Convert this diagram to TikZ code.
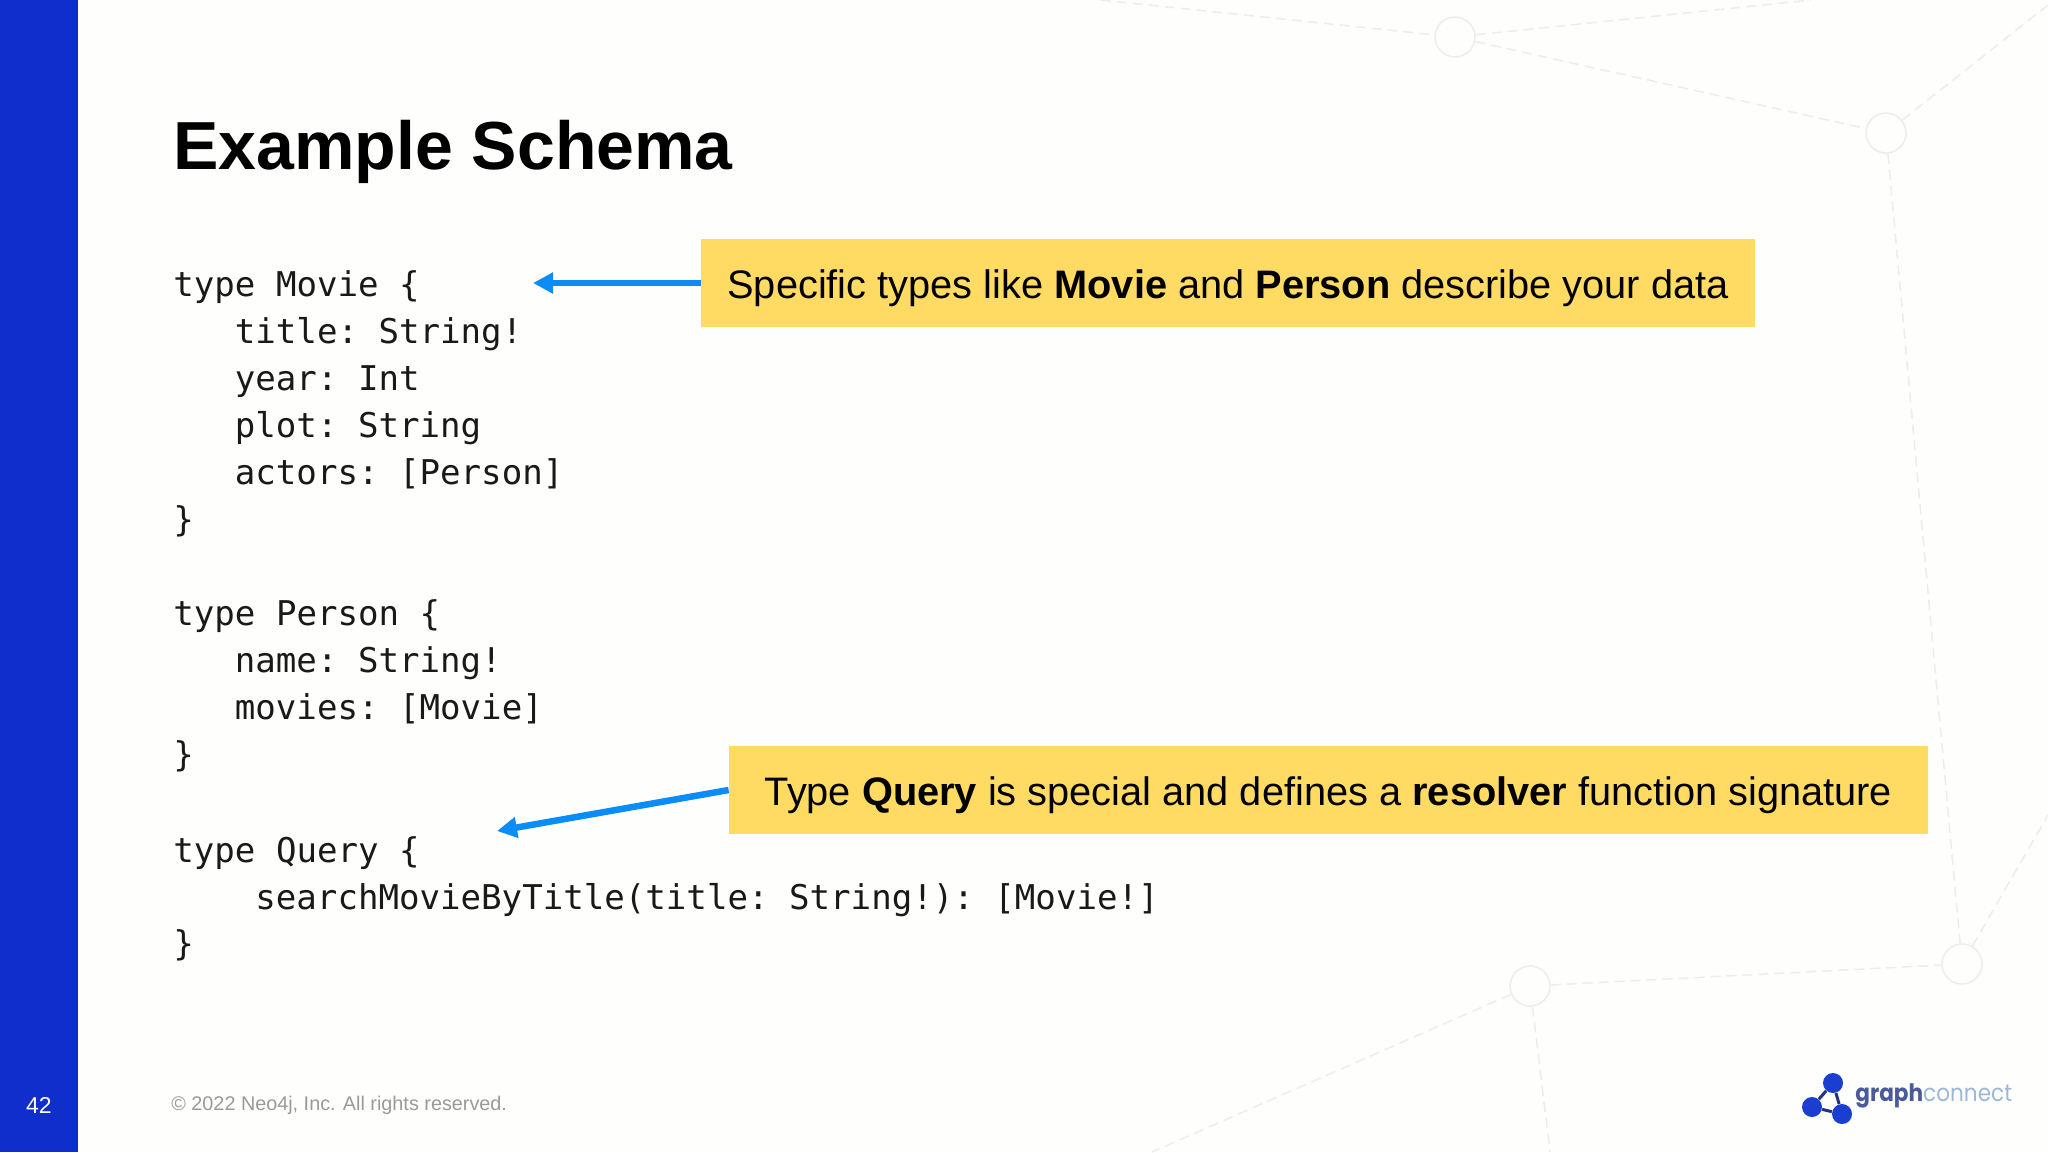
\documentclass[tikz,border=0pt]{standalone}
\usepackage{fontspec}
\setmainfont{Liberation Sans}
\setmonofont{DejaVu Sans Mono}
\newfontfamily\logofont{Poppins}
\usetikzlibrary{arrows.meta}
\definecolor{barblue}{HTML}{102ECB}
\definecolor{callout}{HTML}{FFDB63}
\definecolor{arrowblue}{HTML}{0C8CF6}
\definecolor{netgrey}{HTML}{EDEDED}
\definecolor{bgwhite}{HTML}{FEFEFD}
\definecolor{foot}{HTML}{9A9A9A}
\definecolor{logoblue}{HTML}{1A3FD0}
\definecolor{logodark}{HTML}{25337F}
\definecolor{logograph}{HTML}{4A5A9A}
\definecolor{logoconn}{HTML}{9DB8D6}
\tikzset{
  netnode/.style={circle,draw=netgrey,line width=0.75pt,minimum size=20pt,inner sep=0pt},
  netline/.style={draw=netgrey,line width=0.75pt,dash pattern=on 5pt off 3pt},
  calloutbox/.style={fill=callout,inner sep=0pt,font=\fontsize{19.88}{24}\selectfont,text=black,text height=18pt,text depth=2.8pt},
  pointer/.style={draw=arrowblue,line width=3.25pt,-{Triangle[length=10pt,width=10pt]}},
  codeline/.style={anchor=base west,inner sep=0pt,font=\ttfamily\fontsize{17.05}{20}\selectfont,text=black!90},
  logodot/.style={circle,fill=logoblue,minimum size=10pt,inner sep=0pt},
  logolink/.style={draw=logodark,line width=1.5pt},
}
\begin{document}
\begin{tikzpicture}[x=0.5pt,y=-0.5pt]
\useasboundingbox (0,0) rectangle (2048,1152);
\fill[bgwhite] (0,0) rectangle (2048,1152);
% background network
\node[netnode] (n1) at (1455,37) {};
\node[netnode] (n2) at (1886,133) {};
\node[netnode] (n3) at (1962,964) {};
\node[netnode] (n4) at (1530,986) {};
\coordinate (e1) at (1101,0);
\coordinate (e2) at (1811,0);
\coordinate (e3) at (2048,5);
\coordinate (e4) at (2048,815);
\coordinate (e5) at (1152,1152);
\coordinate (e6) at (1550,1152);
\path[netline] (e1) -- (n1);
\path[netline] (n1) -- (e2);
\path[netline] (n1) -- (n2);
\path[netline] (n2) -- (e3);
\path[netline] (n2) -- (n3);
\path[netline] (n3) -- (e4);
\path[netline] (n4) -- (n3);
\path[netline] (n4) -- (e5);
\path[netline] (n4) -- (e6);
% side bar
\fill[barblue] (0,0) rectangle (78,1152);
\node[text=white,font=\fontsize{11.5}{14}\selectfont] (pagenum) at (39,1105) {42};
% title
\node[anchor=base west,inner sep=0pt,font=\bfseries\fontsize{34}{40}\selectfont,text=black] (title) at (173,169) {Example Schema};
% code
\node[codeline] (c1) at (173,296.3) {type Movie \{};
\node[codeline] (c2) at (234.5,343.3) {title: String!};
\node[codeline] (c3) at (234.5,390.3) {year: Int};
\node[codeline] (c4) at (234.5,437.3) {plot: String};
\node[codeline] (c5) at (234.5,484.3) {actors: [Person]};
\node[codeline] (c6) at (173,531.3) {\}};
\node[codeline] (c7) at (173,625.5) {type Person \{};
\node[codeline] (c8) at (234.5,672.5) {name: String!};
\node[codeline] (c9) at (234.5,719.5) {movies: [Movie]};
\node[codeline] (c10) at (173,766.5) {\}};
\node[codeline] (c11) at (173,862) {type Query \{};
\node[codeline] (c12) at (255,909) {searchMovieByTitle(title: String!): [Movie!]};
\node[codeline] (c13) at (173,955.5) {\}};
% callouts
\node[calloutbox,minimum width=527pt,minimum height=44pt] (call1) at (1228,283) {Specific types like \textbf{Movie} and \textbf{Person} describe your data};
\node[calloutbox,minimum width=599.5pt,minimum height=44pt] (call2) at (1328.5,790) {Type \textbf{Query} is special and defines a \textbf{resolver} function signature};
\coordinate (tip1) at (533,283);
\coordinate (tip2) at (497,831);
\draw[pointer] (call1.west) -- (tip1);
\draw[pointer] (call2.west) -- (tip2);
% footer
\node[anchor=base west,inner sep=0pt,text=foot,font=\fontsize{9.9}{13}\selectfont] (copy) at (171,1110.5) {© 2022 Neo4j, Inc. All rights reserved.};
% logo
\node[logodot] (d1) at (1833,1083) {};
\node[logodot] (d2) at (1812,1107) {};
\node[logodot] (d3) at (1842,1114) {};
\draw[logolink] (d1) -- (d2);
\draw[logolink] (d2) -- (d3);
\draw[logolink] (d3) -- (d1);
\node[anchor=west,inner sep=0pt,xscale=0.9,font=\logofont\fontsize{12}{15}\selectfont] (logotext) at (1855,1096) {\textcolor{logograph}{\textbf{graph}}\textcolor{logoconn}{connect}};
\end{tikzpicture}
\end{document}
